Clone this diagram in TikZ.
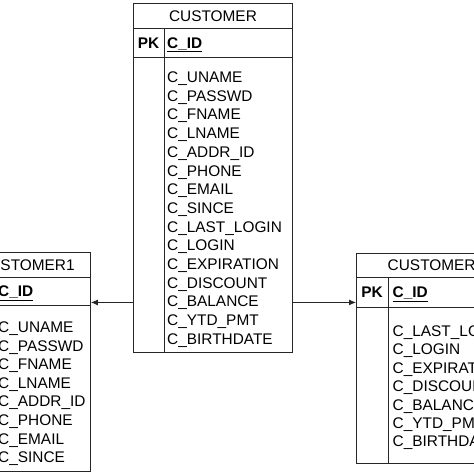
\documentclass[tikz,border=0pt]{standalone}
\usepackage{fontspec}
\setmainfont{Liberation Sans}
\usetikzlibrary{positioning, arrows.meta, calc}

\begin{document}
\begin{tikzpicture}[
  x=1pt, y=-1pt,
  box/.style={rectangle, draw=black!85, line width=0.9pt, inner sep=0pt, anchor=north west},
  ttl/.style={box, font=\fontsize{15.4}{18}\selectfont},
  fld/.style={inner sep=0pt, text height=11pt, text depth=0pt, anchor=west, font=\fontsize{15.4}{18}\selectfont},
  pk/.style={fld, anchor=center, font=\fontsize{15.4}{18}\selectfont\bfseries},
  idf/.style={fld, font=\fontsize{15.4}{18}\selectfont\bfseries},
  sep/.style={draw=black!85, line width=0.9pt},
  arr/.style={draw=black!85, line width=0.9pt, -{Latex[length=7pt,width=6pt]}}
]
  \useasboundingbox (0,0) rectangle (474,474);
  \clip (0,0) rectangle (474,474);

  % CUSTOMER
  \node[ttl, minimum width=159pt, minimum height=25pt] (title0) at (133,3) {CUSTOMER};
  \node[box, minimum width=159pt, minimum height=29pt] (key0) at (133,28) {};
  \node[box, minimum width=159pt, minimum height=295pt] (body0) at (133,57) {};
  \draw[sep] ([xshift=31pt]key0.north west) -- ([xshift=31pt]body0.south west);
  \node[pk] (pk0) at (148.5,42.5) {PK};
  \node[idf] (id0) at (167,42.5) {\underline{C\_ID}};
  \foreach \f [count=\i from 0] in {C\_UNAME, C\_PASSWD, C\_FNAME, C\_LNAME, C\_ADDR\_ID,
      C\_PHONE, C\_EMAIL, C\_SINCE, C\_LAST\_LOGIN, C\_LOGIN, C\_EXPIRATION,
      C\_DISCOUNT, C\_BALANCE, C\_YTD\_PMT, C\_BIRTHDATE}
    \node[fld] (f0\i) at (167,77+18.7*\i) {\f};

  % CUSTOMER1
  \node[ttl, minimum width=128pt, minimum height=25pt] (title1) at (-38,252) {CUSTOMER1};
  \node[box, minimum width=128pt, minimum height=28pt] (key1) at (-38,277) {};
  \node[box, minimum width=128pt, minimum height=166pt] (body1) at (-38,305) {};
  \draw[sep] ([xshift=32pt]key1.north west) -- ([xshift=32pt]body1.south west);
  \node[pk] (pk1) at (-22,291) {PK};
  \node[idf] (id1) at (-2,291) {\underline{C\_ID}};
  \foreach \f [count=\i from 0] in {C\_UNAME, C\_PASSWD, C\_FNAME, C\_LNAME, C\_ADDR\_ID,
      C\_PHONE, C\_EMAIL, C\_SINCE}
    \node[fld] (f1\i) at (-2,327+18.6*\i) {\f};

  % CUSTOMER2
  \node[ttl, minimum width=159pt, minimum height=24pt] (title2) at (356,253) {CUSTOMER2};
  \node[box, minimum width=159pt, minimum height=30pt] (key2) at (356,277) {};
  \node[box, minimum width=159pt, minimum height=156pt] (body2) at (356,307) {};
  \draw[sep] ([xshift=32pt]key2.north west) -- ([xshift=32pt]body2.south west);
  \node[pk] (pk2) at (372,292) {PK};
  \node[idf] (id2) at (392.5,292) {\underline{C\_ID}};
  \foreach \f [count=\i from 0] in {C\_LAST\_LOGIN, C\_LOGIN, C\_EXPIRATION,
      C\_DISCOUNT, C\_BALANCE, C\_YTD\_PMT, C\_BIRTHDATE}
    \node[fld] (f2\i) at (392.5,331+18.4*\i) {\f};

  % links
  \coordinate (a1) at ([yshift=-11pt]key1.east);
  \coordinate (a2) at ([yshift=-10pt]key2.west);
  \draw[arr] (body0.west |- a1) -- (a1);
  \draw[arr] (body0.east |- a2) -- (a2);
\end{tikzpicture}
\end{document}
